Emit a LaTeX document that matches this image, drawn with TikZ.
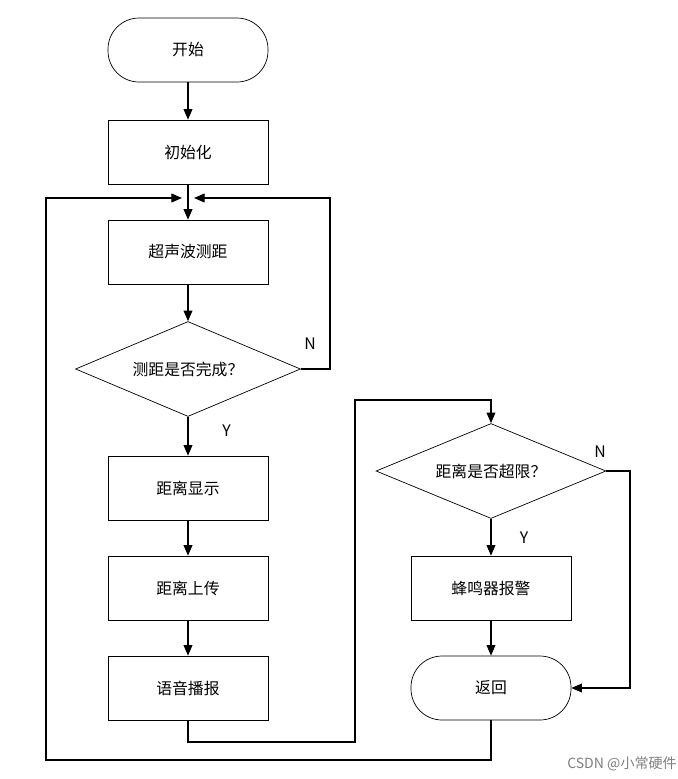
\documentclass[tikz,border=0pt]{standalone}
\usepackage{fontspec}
\setmainfont{Noto Sans CJK SC}
\usetikzlibrary{shapes.geometric,arrows.meta,calc}

\begin{document}
\begin{tikzpicture}[x=0.02cm, y=-0.02cm,
    terminal/.style={rectangle, rounded corners=0.62cm, draw, minimum width=3.2cm, minimum height=1.28cm, font=\small},
    process/.style={rectangle, draw, minimum width=3.2cm, minimum height=1.28cm, font=\small},
    decision/.style={diamond, draw, aspect=2.38, inner sep=1pt, minimum width=4.5cm, minimum height=1.9cm, font=\small},
    flow/.style={-{Triangle[length=6pt,width=5pt]}, line width=0.6pt},
    lbl/.style={font=\small}
]
\useasboundingbox (0,0) rectangle (678,779);

% Main column
\node[terminal] (start) at (188,50) {开始};
\node[process] (init) at (188,152) {初始化};
\node[process] (measure) at (188,252) {超声波测距};
\node[decision] (done) at (188,369) {测距是否完成？};
\node[process] (show) at (188,488) {距离显示};
\node[process] (upload) at (188,588) {距离上传};
\node[process] (voice) at (188,688) {语音播报};

% Alarm column
\node[decision, minimum width=4.6cm] (over) at (491,471) {距离是否超限？};
\node[process] (alarm) at (491,588) {蜂鸣器报警};
\node[terminal] (ret) at (491,688) {返回};

% Joining point above measurement
\coordinate (join) at (188,198);

\draw[flow] (start) -- (init);
\draw[flow] (init) -- (measure);
\draw[flow] (measure) -- (done);
\draw[flow] (done) -- node[lbl, right, pos=0.35, xshift=16pt] {Y} (show);
\draw[flow] (show) -- (upload);
\draw[flow] (upload) -- (voice);

% N loop back to measurement
\draw[flow] (done.east) -- (330,369) -- (330,198) -- ($(join)+(6,0)$);
\node[lbl] (nlbl) at (310,344) {N};

% To alarm check
\draw[flow] (voice.south) -- (188,742) -- (355,742) -- (355,400) -- (491,400) -- (over.north);
\draw[flow] (over) -- (alarm);
\node[lbl] (ylbl) at (524,538) {Y};
\draw[flow] (over.east) -- (630,471) -- (630,688) -- (ret.east);
\node[lbl] (nlbl2) at (600,452) {N};
\draw[flow] (alarm) -- (ret);

% Return loop
\draw[flow] (ret.south) -- (491,760) -- (46,760) -- (46,198) -- ($(join)+(-6,0)$);

\node[font=\footnotesize, gray] (mark) at (622,764) {CSDN @小常硬件};
\end{tikzpicture}
\end{document}
